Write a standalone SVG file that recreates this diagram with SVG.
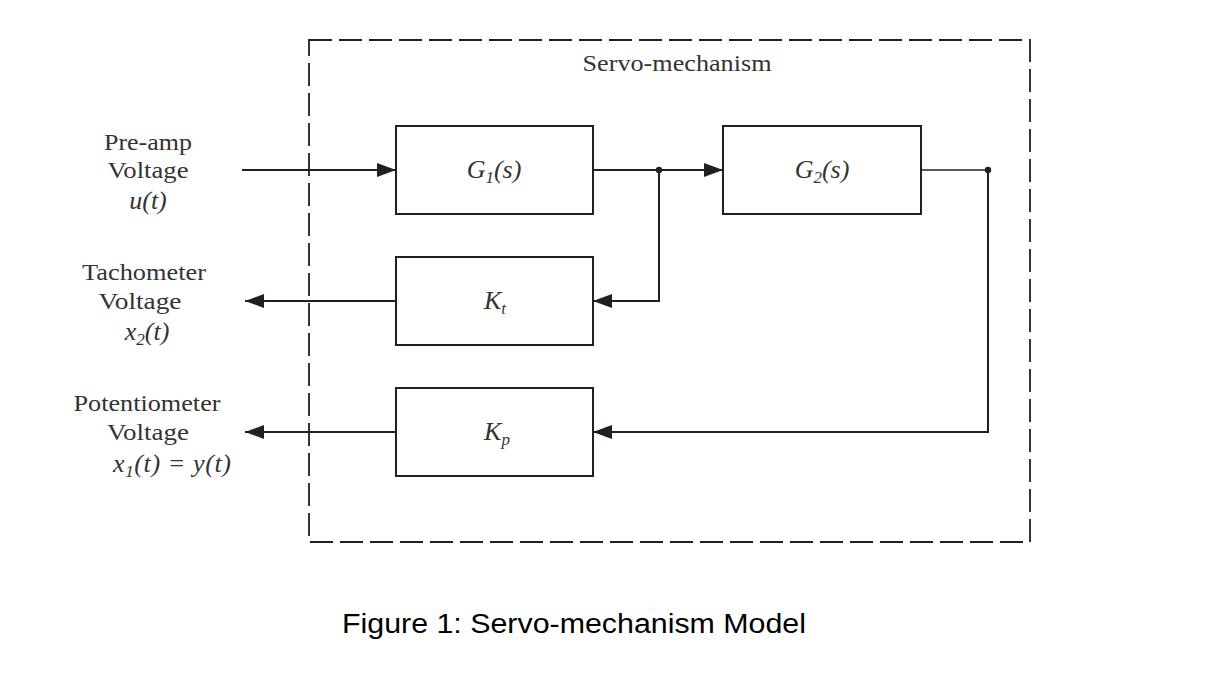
<svg xmlns="http://www.w3.org/2000/svg" width="1218" height="675" viewBox="0 0 1218 675">
<style>
.box{fill:#fff;stroke:#231f20;stroke-width:2}
.ln{fill:none;stroke:#231f20;stroke-width:2}
.thin{fill:none;stroke:#231f20;stroke-width:1.5}
.frame{fill:none;stroke:#231f20;stroke-width:1.8;stroke-dasharray:23 7}
.t{font-family:"Liberation Serif","Times New Roman",serif;font-size:23px;fill:#333;text-anchor:middle}
.i{font-style:italic;font-size:26px}
.sub{font-size:17px}
.cap{font-family:"Liberation Sans",Arial,sans-serif;font-size:27px;fill:#000}
</style>
<defs>
<marker id="ah" markerUnits="userSpaceOnUse" markerWidth="20" markerHeight="14" refX="19" refY="7" orient="auto">
<path d="M0,0 L19,7 L0,14 Z" fill="#231f20"/>
</marker>
</defs>
<rect class="frame" x="309" y="40" width="721" height="502"/>
<text class="t" x="677" y="71" textLength="189" lengthAdjust="spacingAndGlyphs">Servo-mechanism</text>
<g id="g1"><rect class="box" x="396" y="126" width="197" height="88"/>
<text class="t i" x="494" y="178">G<tspan class="sub" dy="5">1</tspan><tspan dy="-5">(s)</tspan></text></g>
<g id="g2"><rect class="box" x="723" y="126" width="198" height="88"/>
<text class="t i" x="822" y="178">G<tspan class="sub" dy="5">2</tspan><tspan dy="-5">(s)</tspan></text></g>
<g id="kt"><rect class="box" x="396" y="257" width="197" height="88"/>
<text class="t i" x="495" y="309">K<tspan class="sub" dy="5">t</tspan></text></g>
<g id="kp"><rect class="box" x="396" y="388" width="197" height="88"/>
<text class="t i" x="497" y="440">K<tspan class="sub" dy="5">p</tspan></text></g>
<g id="lbl-in">
<text class="t" x="148" y="150" textLength="88" lengthAdjust="spacingAndGlyphs">Pre-amp</text>
<text class="t" x="148" y="178" textLength="81" lengthAdjust="spacingAndGlyphs">Voltage</text>
<text class="t i" x="148" y="209">u(t)</text>
</g>
<g id="lbl-tach">
<text class="t" x="144" y="280" textLength="124" lengthAdjust="spacingAndGlyphs">Tachometer</text>
<text class="t" x="140" y="309" textLength="83" lengthAdjust="spacingAndGlyphs">Voltage</text>
<text class="t i" x="147" y="340">x<tspan class="sub" dy="5">2</tspan><tspan dy="-5">(t)</tspan></text>
</g>
<g id="lbl-pot">
<text class="t" x="147" y="411" textLength="147" lengthAdjust="spacingAndGlyphs">Potentiometer</text>
<text class="t" x="148" y="440" textLength="82" lengthAdjust="spacingAndGlyphs">Voltage</text>
<text class="t i" x="172" y="472" textLength="118" lengthAdjust="spacing">x<tspan class="sub" dy="5">1</tspan><tspan dy="-5">(t) = y(t)</tspan></text>
</g>
<g id="connectors">
<path class="ln" d="M242,170 H396" marker-end="url(#ah)"/>
<path class="ln" d="M593,170 H723" marker-end="url(#ah)"/>
<path class="ln" d="M659,170 V301 H593" marker-end="url(#ah)"/>
<path class="thin" d="M921,170 H988"/>
<path class="ln" d="M988,170 V432 H593" marker-end="url(#ah)"/>
<path class="ln" d="M396,301 H245" marker-end="url(#ah)"/>
<path class="ln" d="M396,432 H245" marker-end="url(#ah)"/>
<circle cx="659" cy="170" r="3.2" fill="#231f20"/>
<circle cx="988" cy="170" r="3.2" fill="#231f20"/>
</g>
<text class="cap" x="342" y="633" textLength="464" lengthAdjust="spacingAndGlyphs">Figure 1: Servo-mechanism Model</text>
</svg>
